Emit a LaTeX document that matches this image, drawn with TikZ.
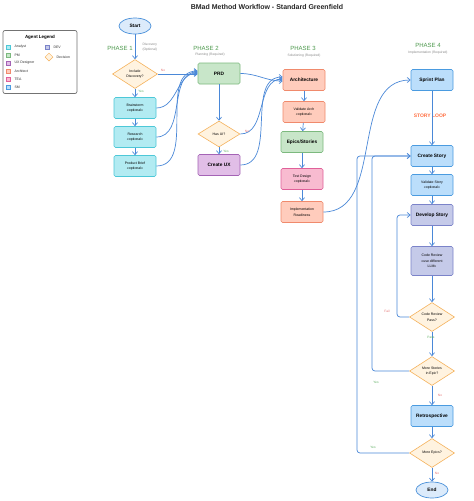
\documentclass[tikz,border=0pt]{standalone}
\usepackage{fontspec}
\setmainfont{Liberation Sans}
\usetikzlibrary{shapes.geometric,arrows.meta}
\definecolor{analystF}{HTML}{B2EBF2}\definecolor{analystD}{HTML}{4DC8D8}
\definecolor{pmF}{HTML}{C8E6C9}\definecolor{pmD}{HTML}{7CB97E}
\definecolor{uxF}{HTML}{E1BEE7}\definecolor{uxD}{HTML}{A463B5}
\definecolor{archF}{HTML}{FFCCBC}\definecolor{archD}{HTML}{F08A6C}
\definecolor{teaF}{HTML}{F8BBD0}\definecolor{teaD}{HTML}{E0609A}
\definecolor{smF}{HTML}{BBDEFB}\definecolor{smD}{HTML}{4A9BE0}
\definecolor{devF}{HTML}{C5CAE9}\definecolor{devD}{HTML}{7B83C9}
\definecolor{decF}{HTML}{FFF3E0}\definecolor{decD}{HTML}{F5B25C}
\definecolor{startF}{HTML}{DCEBFB}\definecolor{startD}{HTML}{4A90D9}
\definecolor{arrowC}{HTML}{4A88D8}
\definecolor{phaseC}{HTML}{4E9A4E}
\definecolor{subC}{HTML}{888888}
\definecolor{noC}{HTML}{E57373}
\definecolor{yesC}{HTML}{5FAF62}
\definecolor{loopC}{HTML}{FF7043}
\tikzset{
 box/.style={draw, rounded corners=1.5pt, minimum width=42pt, minimum height=21pt, align=center,
   font=\fontsize{4.8}{5.5}\selectfont\bfseries, line width=0.6pt, inner sep=1pt},
 smallbox/.style={box, font=\fontsize{3.5}{5.5}\selectfont},
 analyst/.style={fill=analystF, draw=analystD},
 pm/.style={fill=pmF, draw=pmD},
 ux/.style={fill=uxF, draw=uxD},
 archc/.style={fill=archF, draw=archD},
 tea/.style={fill=teaF, draw=teaD},
 sm/.style={fill=smF, draw=smD},
 dev/.style={fill=devF, draw=devD},
 dec/.style={diamond, draw=decD, fill=decF, line width=0.6pt, minimum width=45pt, minimum height=29pt,
   inner sep=0pt, align=center, font=\fontsize{3.5}{5.5}\selectfont},
 term/.style={ellipse, draw=startD, fill=startF, line width=0.7pt, minimum width=32pt, minimum height=16pt,
   inner sep=0pt, font=\fontsize{4.8}{5.5}\selectfont\bfseries},
 arr/.style={-{Straight Barb[length=3pt,width=5pt]}, draw=arrowC, line width=0.7pt},
 phase/.style={text=phaseC, font=\fontsize{6}{7}\selectfont},
 sub/.style={text=subC, font=\fontsize{3.3}{4.5}\selectfont},
 nolab/.style={text=noC, font=\fontsize{3.2}{4}\selectfont},
 yeslab/.style={text=yesC, font=\fontsize{3.2}{4}\selectfont},
 legtxt/.style={font=\fontsize{3.5}{4}\selectfont, anchor=west, text=black!80},
 sw/.style={draw, line width=0.5pt, minimum size=4.5pt, inner sep=0pt},
}
\begin{document}
\begin{tikzpicture}[x=1pt,y=-1pt]
\path[use as bounding box, fill=white] (0,0) rectangle (474,501);
% title
\node[font=\fontsize{7}{8}\selectfont\bfseries, text=black!85] (title) at (267,7) {BMad Method Workflow - Standard Greenfield};
% legend
\node[draw=black!55, rounded corners=2pt, line width=0.7pt, minimum width=74pt, minimum height=63pt, inner sep=0pt] (legend) at (40,62) {};
\node[font=\fontsize{4.5}{5}\selectfont\bfseries] (legt) at (40,37) {Agent Legend};
\node[sw, analyst] (s1) at (8,47) {}; \node[legtxt] (l1) at (11,47) {Analyst};
\node[sw, pm] (s2) at (8,55) {}; \node[legtxt] (l2) at (11,55) {PM};
\node[sw, ux] (s3) at (8,63) {}; \node[legtxt] (l3) at (11,63) {UX Designer};
\node[sw, archc] (s4) at (8,71) {}; \node[legtxt] (l4) at (11,71) {Architect};
\node[sw, tea] (s5) at (8,79) {}; \node[legtxt] (l5) at (11,79) {TEA};
\node[sw, sm] (s6) at (8,87) {}; \node[legtxt] (l6) at (11,87) {SM};
\node[sw, dev] (s7) at (47,47) {}; \node[legtxt] (l7) at (50,47) {DEV};
\node[diamond, draw=decD, fill=decF, line width=0.5pt, minimum size=8pt, inner sep=0pt] (s8) at (49,57) {}; \node[legtxt] (l8) at (53,57) {Decision};
% phase labels
\node[phase] (p1) at (120,48) {PHASE 1};
\node[sub, anchor=west, align=left] (p1s) at (139,47) {Discovery\\(Optional)};
\node[phase] (p2) at (206,48) {PHASE 2};
\node[sub] (p2s) at (210,55) {Planning (Required)};
\node[phase] (p3) at (303,48) {PHASE 3};
\node[sub] (p3s) at (304,56) {Solutioning (Required)};
\node[phase] (p4) at (428,45) {PHASE 4};
\node[sub] (p4s) at (428,53) {Implementation (Required)};
\node[text=loopC, font=\fontsize{5}{6}\selectfont\bfseries] (loop) at (430,116) {STORY LOOP};
% phase 1
\node[term] (start) at (135,26) {Start};
\node[dec] (incd) at (135,74) {Include\\Discovery?};
\node[smallbox, analyst] (brain) at (135,108) {Brainstorm\\<<optional>>};
\node[smallbox, analyst] (res) at (135,137) {Research\\<<optional>>};
\node[smallbox, analyst] (pb) at (135,166) {Product Brief\\<<optional>>};
% phase 2
\node[box, pm] (prd) at (219,73.5) {PRD};
\node[dec, minimum width=42pt, minimum height=26pt] (hasui) at (219,134) {Has UI?};
\node[box, ux] (cux) at (219,165) {Create UX};
% phase 3
\node[box, archc] (arch) at (304,80) {Architecture};
\node[smallbox, archc] (va) at (304,112) {Validate Arch\\<<optional>>};
\node[box, pm] (epics) at (302,142) {Epics/Stories};
\node[smallbox, tea] (td) at (302,179) {Test Design\\<<optional>>};
\node[smallbox, archc] (ir) at (302,212) {Implementation\\Readiness};
% phase 4
\node[box, sm] (sprint) at (432,80) {Sprint Plan};
\node[box, sm] (cs) at (432,156) {Create Story};
\node[smallbox, sm] (vs) at (432,185) {Validate Story\\<<optional>>};
\node[box, dev] (ds) at (432,215) {Develop Story};
\node[smallbox, dev, minimum height=29pt] (cr) at (432,261) {Code Review\\<<use different\\LLM>>};
\node[dec] (crp) at (432,317) {Code Review\\Pass?};
\node[dec] (ms) at (432,371) {More Stories\\in Epic?};
\node[box, sm] (retro) at (432,416) {Retrospective};
\node[dec] (me) at (432,453) {More Epics?};
\node[term] (end) at (432,490) {End};
% arrows phase 1
\draw[arr] (start) -- (incd);
\draw[arr] (incd) -- (brain);
\draw[arr] (brain) -- (res);
\draw[arr] (res) -- (pb);
\draw[arr] (incd.east) -- ([yshift=-0.5pt]prd.west);
\draw[arr] (brain.east) to[out=0,in=180] ([yshift=0.5pt]prd.west);
\draw[arr] (res.east) to[out=0,in=180] ([yshift=1.5pt]prd.west);
\draw[arr] (pb.east) to[out=0,in=180] ([yshift=2.5pt]prd.west);
\node[nolab] (l_no1) at (163,70) {No};
\node[yeslab] (l_yes1) at (141,91) {Yes};
% phase 2
\draw[arr] (prd) -- (hasui);
\draw[arr] (hasui) -- (cux);
\draw[arr] (prd.east) to[out=0,in=180] ([yshift=-1pt]arch.west);
\draw[arr] (hasui.east) to[out=0,in=180] ([yshift=1pt]arch.west);
\draw[arr] (cux.east) to[out=0,in=180] ([yshift=3pt]arch.west);
\node[nolab] (l_no2) at (247,131) {No};
\node[yeslab] (l_yes2) at (226,151) {Yes};
% phase 3
\draw[arr] (arch) -- (va);
\draw[arr] (va) -- (epics);
\draw[arr] (epics) -- (td);
\draw[arr] (td) -- (ir);
\draw[arr] (ir.east) to[out=0,in=180] (sprint.west);
% phase 4
\draw[arr] (sprint) -- (cs);
\draw[arr] (cs) -- (vs);
\draw[arr] (vs) -- (ds);
\draw[arr] (ds) -- (cr);
\draw[arr] (cr) -- (crp);
\draw[arr] (crp) -- (ms);
\draw[arr] (ms) -- (retro);
\draw[arr] (retro) -- (me);
\draw[arr] (me) -- (end);
\draw[arr, rounded corners=3pt] (crp.west) -- (397,317) -- (397,215) -- (ds.west);
\draw[arr, rounded corners=3pt] (ms.west) -- (372,371) -- (372,156) -- (cs.west);
\draw[arr, rounded corners=3pt] (me.west) -- (357,453) -- (357,156) -- (cs.west);
\node[nolab] (l_fail) at (387,311) {Fail};
\node[yeslab] (l_pass) at (431,337) {Pass};
\node[yeslab] (l_yes3) at (376,382) {Yes};
\node[nolab] (l_no3) at (440,395) {No};
\node[yeslab] (l_yes4) at (373,447) {Yes};
\node[nolab] (l_no4) at (437,473) {No};
\end{tikzpicture}
\end{document}
